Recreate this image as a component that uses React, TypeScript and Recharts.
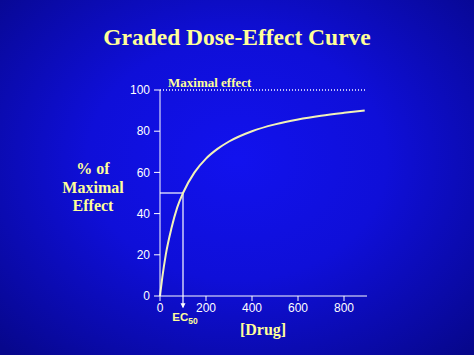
import React from "react";
import {
  LineChart, Line, XAxis, YAxis, ReferenceLine, Label,
} from "recharts";

// [Drug] values
const doses = [0, 10, 25, 50, 75, 100, 150, 200, 250, 300, 400, 500, 600, 700, 800, 890];
const effects = [0, 9, 20, 33, 43, 50, 60, 66.7, 71.4, 75, 80, 83.3, 85.7, 87.5, 88.9, 90];
const xTicks = [0, 200, 400, 600, 800];
const yTicks = [0, 20, 40, 60, 80, 100];
const ec50 = 100;
const maxEffect = 100;

const YELLOW = "#ffff99";
const SERIF = "'Liberation Serif', 'Times New Roman', serif";
const SANS = "'Liberation Sans', Arial, sans-serif";

const data = doses.map((d, i) => ({ dose: d, effect: effects[i] }));

function EcArrow(props: any) {
  const { x1, y1, x2, y2 } = props;
  return (
    <g>
      <line x1={x1} y1={y1} x2={x2} y2={y2} stroke="#ffffff" strokeWidth={1.2} />
      <polygon points={`${x2 - 2.5},${y2 - 4} ${x2 + 2.5},${y2 - 4} ${x2},${y2 + 1}`} fill="#ffffff" />
      <text x={x2 + 2} y={y2 + 14} textAnchor="middle" fill={YELLOW} fontFamily={SANS} fontWeight="bold" fontSize={11.5}>
        EC<tspan fontSize={8.5} dy={3}>50</tspan>
      </text>
    </g>
  );
}

function MaxLabel(props: any) {
  const { viewBox } = props;
  return (
    <text x={viewBox.x + 8} y={viewBox.y - 3} fill={YELLOW} fontFamily={SERIF} fontWeight="bold" fontSize={13}>
      Maximal effect
    </text>
  );
}

export default function App() {
  return (
    <div
      style={{
        position: "absolute", left: 0, top: 0, width: 474, height: 355, overflow: "hidden",
        background: "radial-gradient(ellipse 70% 75% at 50% 45%, #1212ee 0%, #0f0fd8 45%, #0a0aa8 80%, #07078c 100%)",
      }}
    >
      <div
        style={{
          position: "absolute", left: 0, width: 474, top: 22, textAlign: "center",
          fontFamily: SERIF, fontWeight: "bold", fontSize: 23.5, color: YELLOW, lineHeight: "30px",
        }}
      >
        Graded Dose-Effect Curve
      </div>
      <div
        style={{
          position: "absolute", left: 43, width: 100, top: 160, textAlign: "center",
          fontFamily: SERIF, fontWeight: "bold", fontSize: 16, color: YELLOW, lineHeight: "18.5px",
        }}
      >
        % of<br />Maximal<br />Effect
      </div>
      <div
        style={{
          position: "absolute", left: 213, width: 100, top: 320, textAlign: "center",
          fontFamily: SERIF, fontWeight: "bold", fontSize: 16, color: YELLOW, lineHeight: "20px",
        }}
      >
        [Drug]
      </div>
      <LineChart
        width={474}
        height={355}
        data={data}
        margin={{ top: 90, right: 107, bottom: 29, left: 0 }}
        style={{ position: "absolute", left: 0, top: 0 }}
      >
        <XAxis
          dataKey="dose"
          type="number"
          domain={[0, 900]}
          ticks={xTicks}
          height={30}
          stroke="#ffffff"
          tickSize={5}
          tickMargin={2}
          tick={{ fill: "#ffffff", fontSize: 12, fontFamily: SANS }}
        />
        <YAxis
          type="number"
          domain={[0, 100]}
          ticks={yTicks}
          width={160}
          stroke="#ffffff"
          tickSize={6}
          tickMargin={4}
          tick={{ fill: "#ffffff", fontSize: 12, fontFamily: SANS }}
        />
        <ReferenceLine
          y={maxEffect}
          stroke="#ffffff"
          strokeWidth={1.5}
          strokeDasharray="1 2"
        >
          <Label content={(p: any) => <MaxLabel {...p} />} />
        </ReferenceLine>
        <ReferenceLine
          segment={[{ x: 0, y: 50 }, { x: ec50, y: 50 }]}
          stroke="#ffffff"
          strokeWidth={1.2}
          ifOverflow="visible"
        />
        <ReferenceLine
          segment={[{ x: ec50, y: 50 }, { x: ec50, y: -5.5 }]}
          ifOverflow="visible"
          shape={(p: any) => <EcArrow {...p} />}
        />
        <Line
          type="monotone"
          dataKey="effect"
          stroke="#f2f2b8"
          strokeWidth={2}
          dot={false}
          isAnimationActive={false}
        />
      </LineChart>
    </div>
  );
}
